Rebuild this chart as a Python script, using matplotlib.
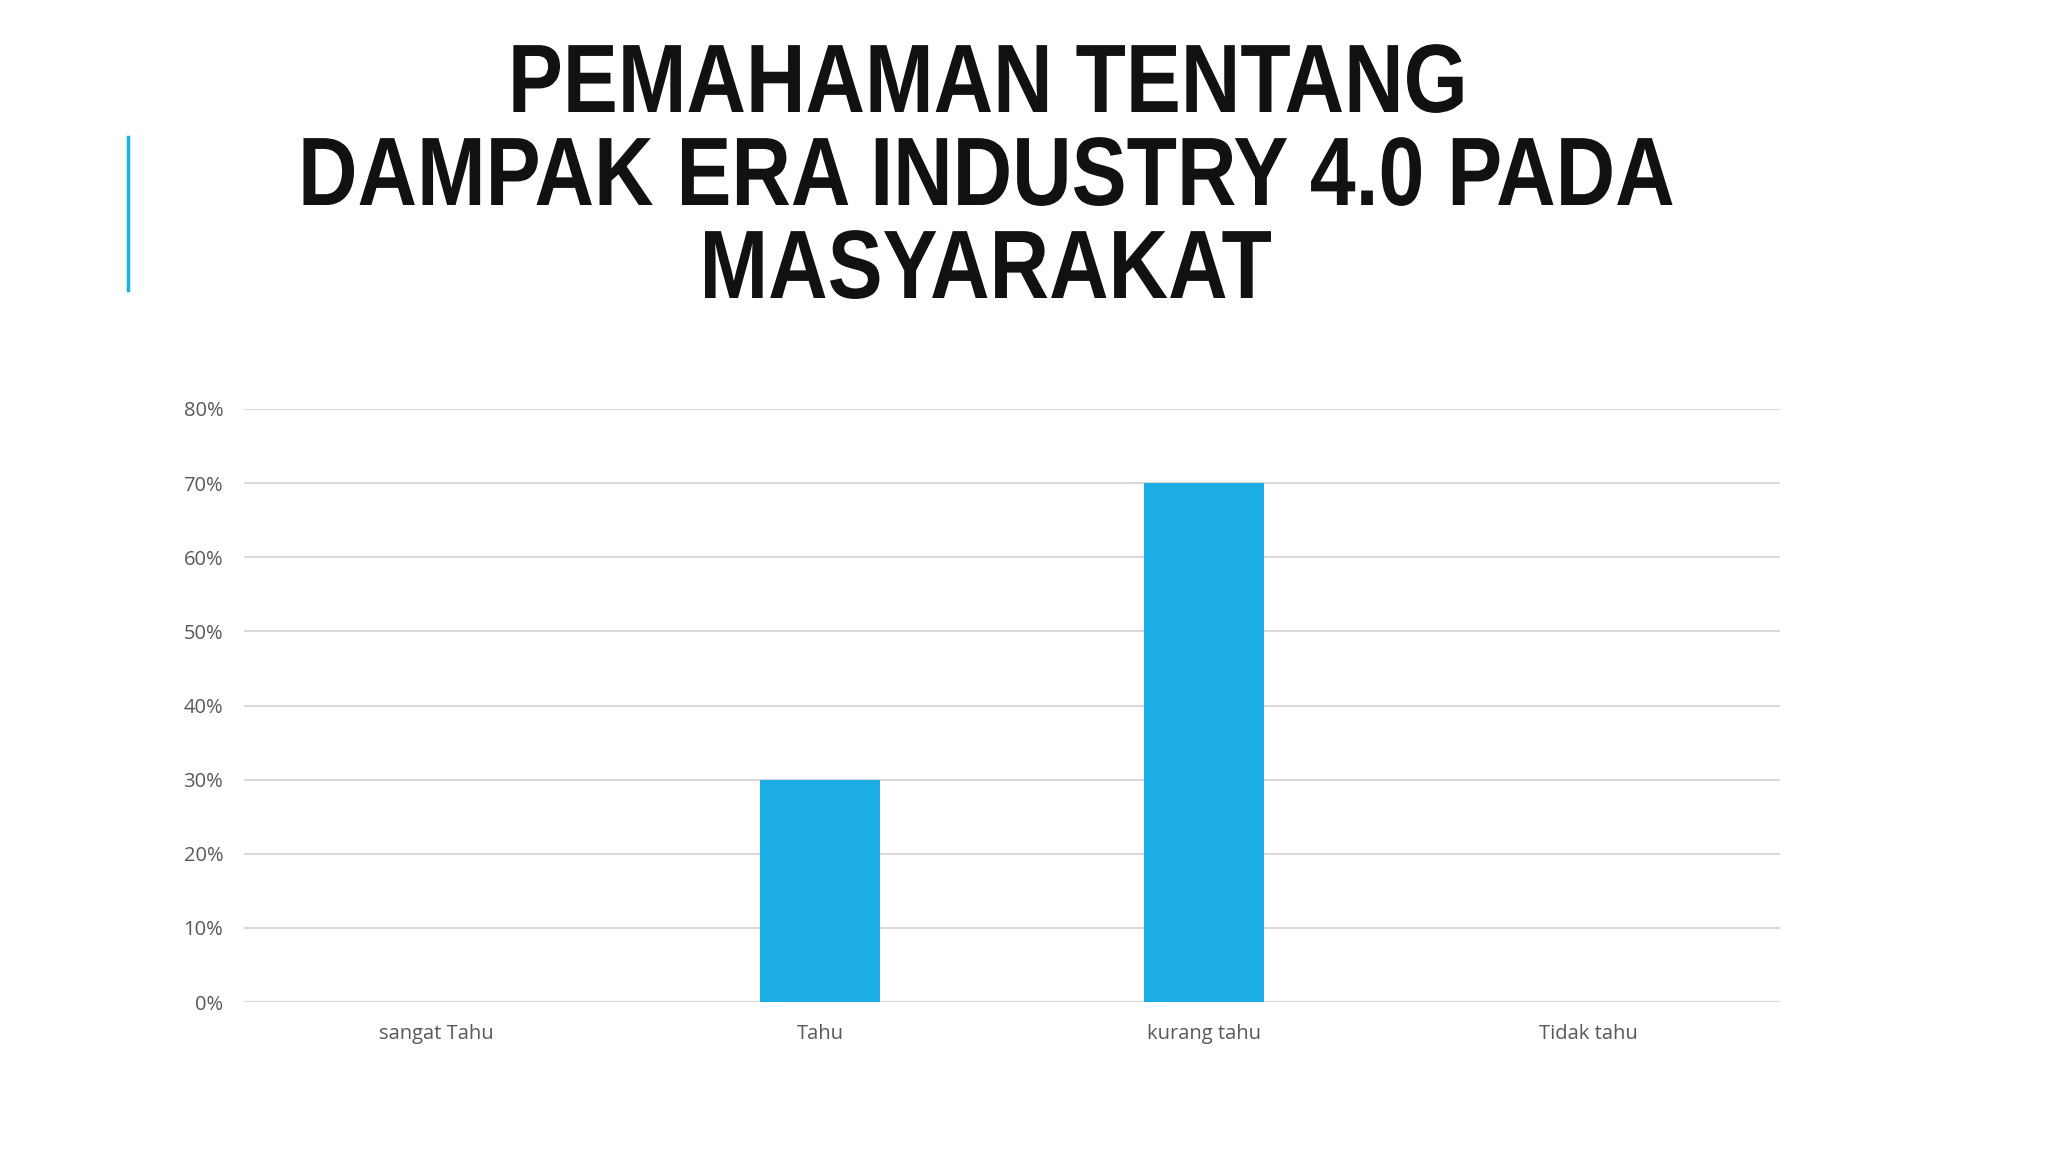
import matplotlib; matplotlib.use("Agg")
import matplotlib.pyplot as plt
from matplotlib.ticker import FuncFormatter, MultipleLocator
from matplotlib.textpath import TextPath
from matplotlib.font_manager import FontProperties
from matplotlib.patches import PathPatch
from matplotlib.transforms import Affine2D, IdentityTransform

# ── Data ──────────────────────────────────────────────────────────────────────
categories = ["sangat Tahu", "Tahu", "kurang tahu", "Tidak tahu"]
values     = [0.0, 0.30, 0.70, 0.0]
title_lines = ["PEMAHAMAN TENTANG", "DAMPAK ERA INDUSTRY 4.0 PADA", "MASYARAKAT"]

BAR_COLOR  = "#1BADE3"
GRID_COLOR = "#D9D9D9"
TEXT_COLOR = "#595959"
W, H = 2048, 1152

fig = plt.figure(figsize=(W / 100, H / 100), dpi=100)
fig.patch.set_facecolor("white")

# ── Title: condensed bold, drawn as scaled text paths (no narrow font installed)
fp = FontProperties(family="Liberation Sans", weight="bold")
paths = [TextPath((0, 0), t, size=100, prop=fp) for t in title_lines]
ref = paths[1].get_extents()
sx = 1369 / ref.width          # line 2 spans ~1369 px
sy = 70 / 72.0                 # cap height ~70 px (cap height of size 100 ≈ 72)
baselines = [112, 205, 298]    # pixel rows from the top
cx = 988
for p, base in zip(paths, baselines):
    ext = p.get_extents()
    tr = (Affine2D().translate(-(ext.x0 + ext.width / 2), 0)
          .scale(sx, sy).translate(cx, H - base))
    fig.add_artist(PathPatch(tr.transform_path(p), facecolor="#111111",
                             edgecolor="none", transform=IdentityTransform()))

# accent bar on the left
fig.add_artist(plt.Line2D([128 / W, 128 / W], [1 - 137 / H, 1 - 290 / H],
                          color=BAR_COLOR, lw=2.5, transform=fig.transFigure))

# ── Bar chart
ax = fig.add_axes([244 / W, 1 - 1002 / H, 1536 / W, 593 / H])
ax.bar(range(len(categories)), values, width=0.3125, color=BAR_COLOR, zorder=3)
ax.set_xlim(-0.5, len(categories) - 0.5)
ax.set_ylim(0, 0.8)
ax.yaxis.set_major_locator(MultipleLocator(0.1))
ax.yaxis.set_major_formatter(FuncFormatter(lambda v, _: f"{v * 100:.0f}%"))
ax.grid(axis="y", color=GRID_COLOR, lw=1.5, zorder=0)
ax.set_axisbelow(True)
for s in ax.spines.values():
    s.set_visible(False)
ax.set_xticks(range(len(categories)))
ax.set_xticklabels(categories)
ax.tick_params(axis="both", length=0, colors=TEXT_COLOR, labelsize=14.5)
ax.tick_params(axis="y", pad=15)
ax.tick_params(axis="x", pad=16)
for lbl in ax.get_xticklabels() + ax.get_yticklabels():
    lbl.set_family("Open Sans")

fig.savefig("out.png", dpi=100)
